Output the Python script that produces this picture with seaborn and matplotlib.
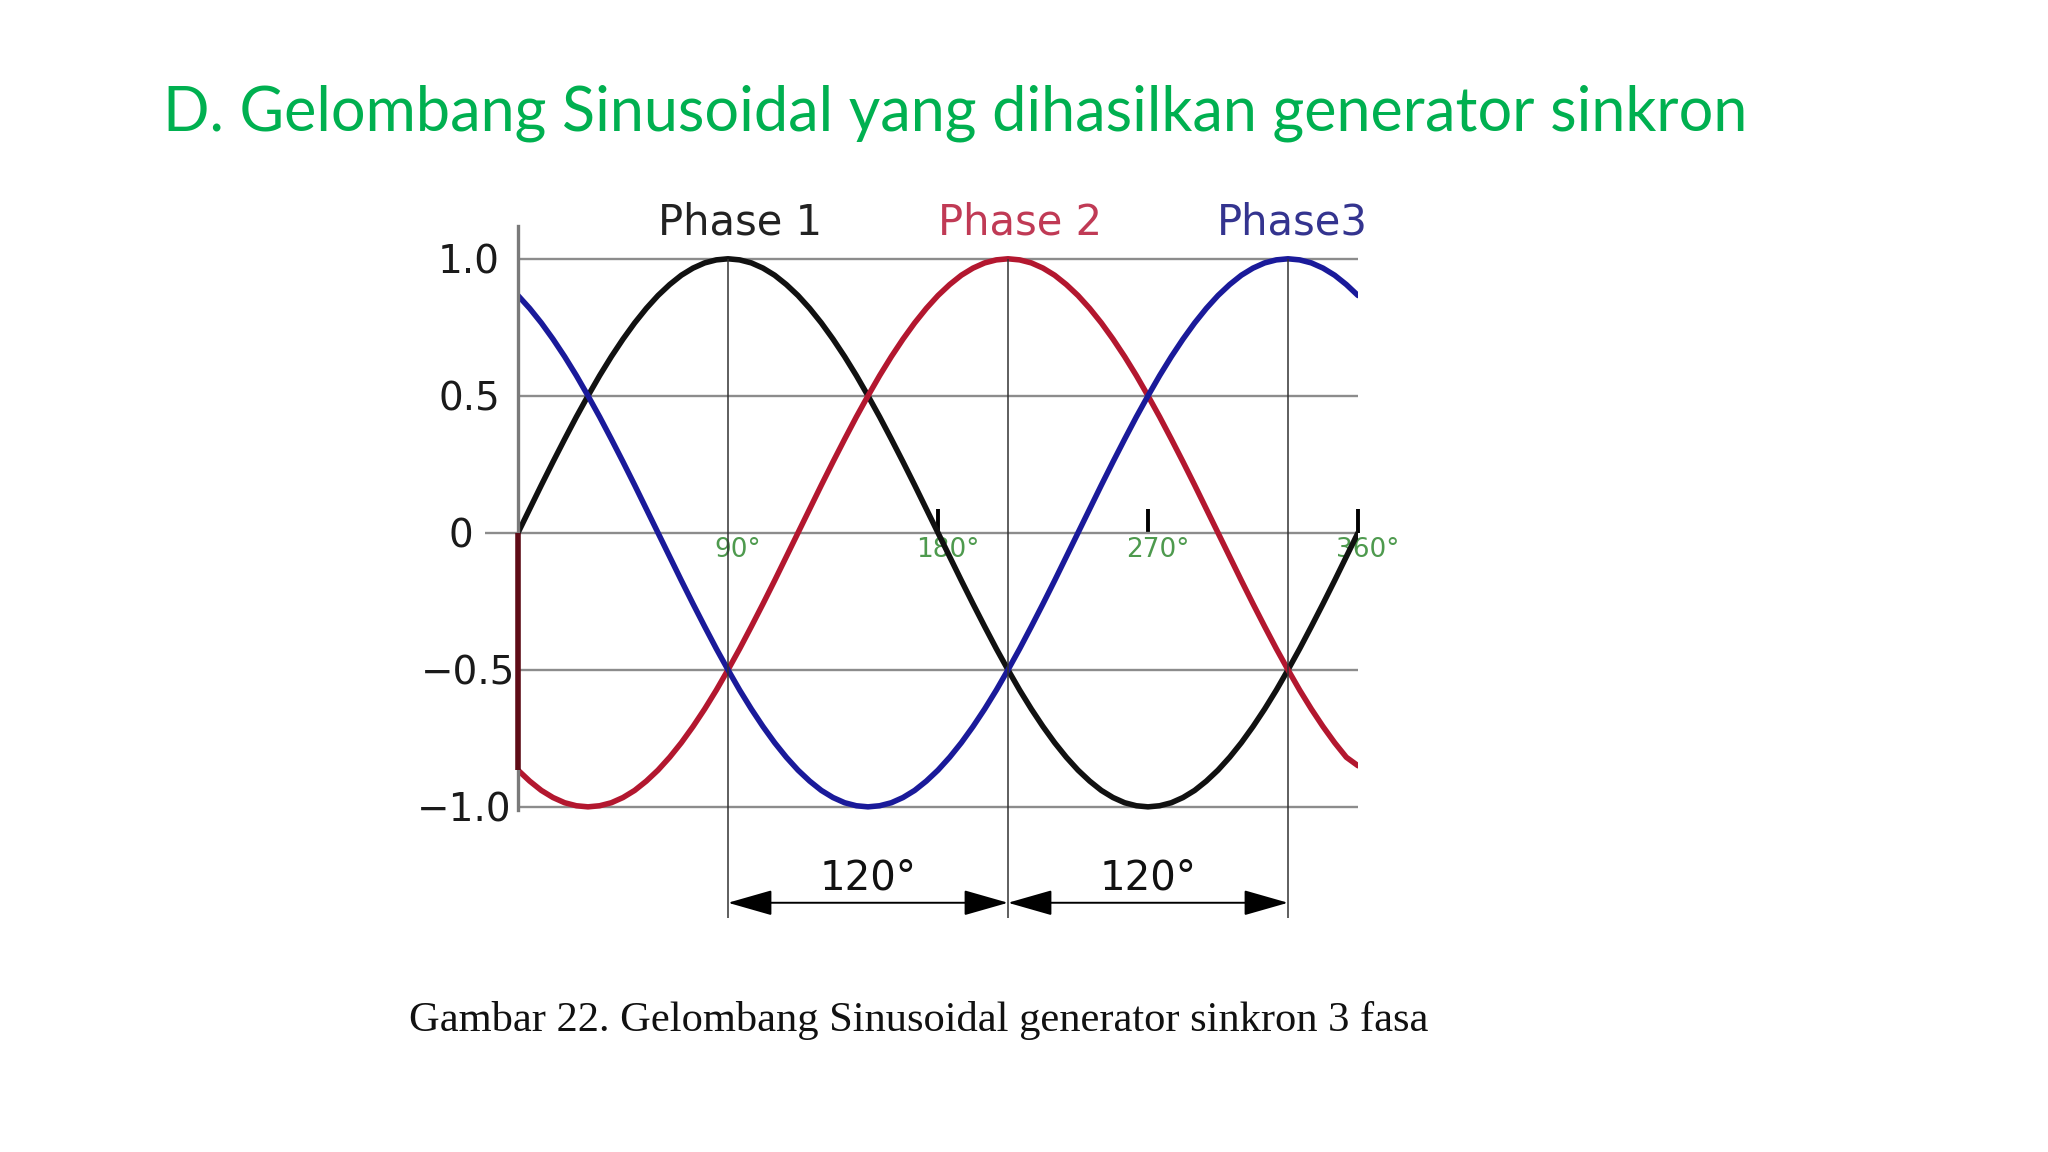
import numpy as np
import pandas as pd
import seaborn as sns
import matplotlib.pyplot as plt
from matplotlib.transforms import ScaledTranslation

# values every 5 degrees
degrees = list(range(0, 361, 5))
phase1 = [0.000, 0.087, 0.174, 0.259, 0.342, 0.423, 0.500, 0.574, 0.643, 0.707,
          0.766, 0.819, 0.866, 0.906, 0.940, 0.966, 0.985, 0.996, 1.000, 0.996,
          0.985, 0.966, 0.940, 0.906, 0.866, 0.819, 0.766, 0.707, 0.643, 0.574,
          0.500, 0.423, 0.342, 0.259, 0.174, 0.087, 0.000, -0.087, -0.174, -0.259,
          -0.342, -0.423, -0.500, -0.574, -0.643, -0.707, -0.766, -0.819, -0.866, -0.906,
          -0.940, -0.966, -0.985, -0.996, -1.000, -0.996, -0.985, -0.966, -0.940, -0.906,
          -0.866, -0.819, -0.766, -0.707, -0.643, -0.574, -0.500, -0.423, -0.342, -0.259,
          -0.174, -0.087, 0.000]
phase2 = [-0.866, -0.906, -0.940, -0.966, -0.985, -0.996, -1.000, -0.996, -0.985, -0.966,
          -0.940, -0.906, -0.866, -0.819, -0.766, -0.707, -0.643, -0.574, -0.500, -0.423,
          -0.342, -0.259, -0.174, -0.087, 0.000, 0.087, 0.174, 0.259, 0.342, 0.423,
          0.500, 0.574, 0.643, 0.707, 0.766, 0.819, 0.866, 0.906, 0.940, 0.966,
          0.985, 0.996, 1.000, 0.996, 0.985, 0.966, 0.940, 0.906, 0.866, 0.819,
          0.766, 0.707, 0.643, 0.574, 0.500, 0.423, 0.342, 0.259, 0.174, 0.087,
          0.000, -0.087, -0.174, -0.259, -0.342, -0.423, -0.500, -0.574, -0.643, -0.707,
          -0.766, -0.819, -0.850]
phase3 = [0.866, 0.819, 0.766, 0.707, 0.643, 0.574, 0.500, 0.423, 0.342, 0.259,
          0.174, 0.087, 0.000, -0.087, -0.174, -0.259, -0.342, -0.423, -0.500, -0.574,
          -0.643, -0.707, -0.766, -0.819, -0.866, -0.906, -0.940, -0.966, -0.985, -0.996,
          -1.000, -0.996, -0.985, -0.966, -0.940, -0.906, -0.866, -0.819, -0.766, -0.707,
          -0.643, -0.574, -0.500, -0.423, -0.342, -0.259, -0.174, -0.087, 0.000, 0.087,
          0.174, 0.259, 0.342, 0.423, 0.500, 0.574, 0.643, 0.707, 0.766, 0.819,
          0.866, 0.906, 0.940, 0.966, 0.985, 0.996, 1.000, 0.996, 0.985, 0.966,
          0.940, 0.906, 0.866]

phase_names = ["Phase 1", "Phase 2", "Phase3"]
phase_label_x = [95, 215, 332]
peak_deg = [90, 210, 330]
shift_label = "120°"

y_ticks = [1.0, 0.5, 0, -0.5, -1.0]
y_labels = ["1.0", "0.5", "0", "\u22120.5", "\u22121.0"]
x_ticks = [90, 180, 270, 360]
x_labels = ["90°", "180°", "270°", "360°"]

title = "D. Gelombang Sinusoidal yang dihasilkan generator sinkron"
caption = "Gambar 22. Gelombang Sinusoidal generator sinkron 3 fasa"

# styling
line_colors = ["#111111", "#b3172f", "#1a1a9a"]
text_colors = ["#222222", "#c03a55", "#34348f"]
y_label_nudge = [0, 0, -19, 11, 8]   # points
grid_color = "#8c8c8c"

sns.set_style("white")
plt.rcParams["font.family"] = ["DejaVu Sans"]

fig = plt.figure(figsize=(20.48, 11.52), dpi=100)
ax = fig.add_axes([518 / 2048, 0.1997, 840 / 2048, 0.6042])

df = pd.DataFrame({
    "deg": degrees * 3,
    "value": phase1 + phase2 + phase3,
    "phase": np.repeat(phase_names, len(degrees)),
})
sns.lineplot(data=df, x="deg", y="value", hue="phase",
             palette=dict(zip(phase_names, line_colors)),
             linewidth=4, legend=False, ax=ax, zorder=2)

# the red trace jumps up the y axis at 0 degrees
ax.plot([degrees[0], degrees[0]], [0, phase2[0]], color="#5e0b16",
        lw=4, solid_capstyle="butt", zorder=3, clip_on=False)

# horizontal grid
for y in y_ticks:
    x0 = -14 if y == 0 else 0
    ax.hlines(y, x0, 360, color=grid_color, lw=1.7, zorder=1, clip_on=False)

# vertical lines at the peaks, running down to the dimension arrows
ax.vlines(peak_deg, -1.405, 1.0, color="#333333", lw=1.1, zorder=3)

arrow_y = -1.35
for a, b in zip(peak_deg[:-1], peak_deg[1:]):
    ax.annotate("", xy=(a, arrow_y), xytext=(b, arrow_y),
                arrowprops=dict(arrowstyle="<|-|>,head_length=1.4,head_width=0.4",
                                mutation_scale=20, lw=1.4, color="black",
                                shrinkA=0, shrinkB=0))
    ax.text((a + b) / 2, -1.30, shift_label, ha="center", va="baseline",
            fontsize=29, color="#111111")

for x, name, c in zip(phase_label_x, phase_names, text_colors):
    ax.text(x, 1.088, name, ha="center", va="baseline", fontsize=30, color=c)

ax.set_xlim(0, 360)
ax.set_ylim(-1.42, 1.12)

# y axis
ax.set_yticks(y_ticks, y_labels)
ax.tick_params(axis="y", left=False, length=0, pad=13, labelsize=28, labelcolor="#1a1a1a")
for lbl, dx in zip(ax.get_yticklabels(), y_label_nudge):
    lbl.set_transform(lbl.get_transform() + ScaledTranslation(dx / 72, 0, fig.dpi_scale_trans))

# x ticks sit on the zero line
ax.spines["bottom"].set_position(("data", 0))
ax.spines["bottom"].set_visible(False)
ax.spines["top"].set_visible(False)
ax.spines["right"].set_visible(False)
ax.spines["left"].set_bounds(-1.01, 1.12)
ax.spines["left"].set_color("#7a7a7a")
ax.spines["left"].set_linewidth(2.4)

ax.set_xticks(x_ticks, x_labels)
ax.tick_params(axis="x", bottom=True, direction="in", length=17, width=2.8,
               color="black", pad=3, labelsize=19, labelcolor="#4e9a4e")
ax.xaxis.get_major_ticks()[0].tick1line.set_visible(False)
for lbl in ax.get_xticklabels():
    lbl.set_bbox(dict(facecolor="white", edgecolor="none", pad=0.5))
    lbl.set_transform(lbl.get_transform() + ScaledTranslation(7 / 72, 0, fig.dpi_scale_trans))
ax.set_xlabel("")
ax.set_ylabel("")

# slide title and caption
t = fig.text(163 / 2048, 1 - 131 / 1152, title, color="#00b050", fontsize=48,
             ha="left", va="baseline", family=["Lato"])
cap = fig.text(919 / 2048, 1 - 1031 / 1152, caption, color="#111111", fontsize=34,
               ha="center", va="baseline", family=["Liberation Serif"])

fig.canvas.draw()
r = fig.canvas.get_renderer()
for txt, target in [(t, 1583), (cap, 1022)]:
    w = txt.get_window_extent(r).width
    txt.set_fontsize(txt.get_fontsize() * target / w)

fig.savefig("out.png", dpi=100)
